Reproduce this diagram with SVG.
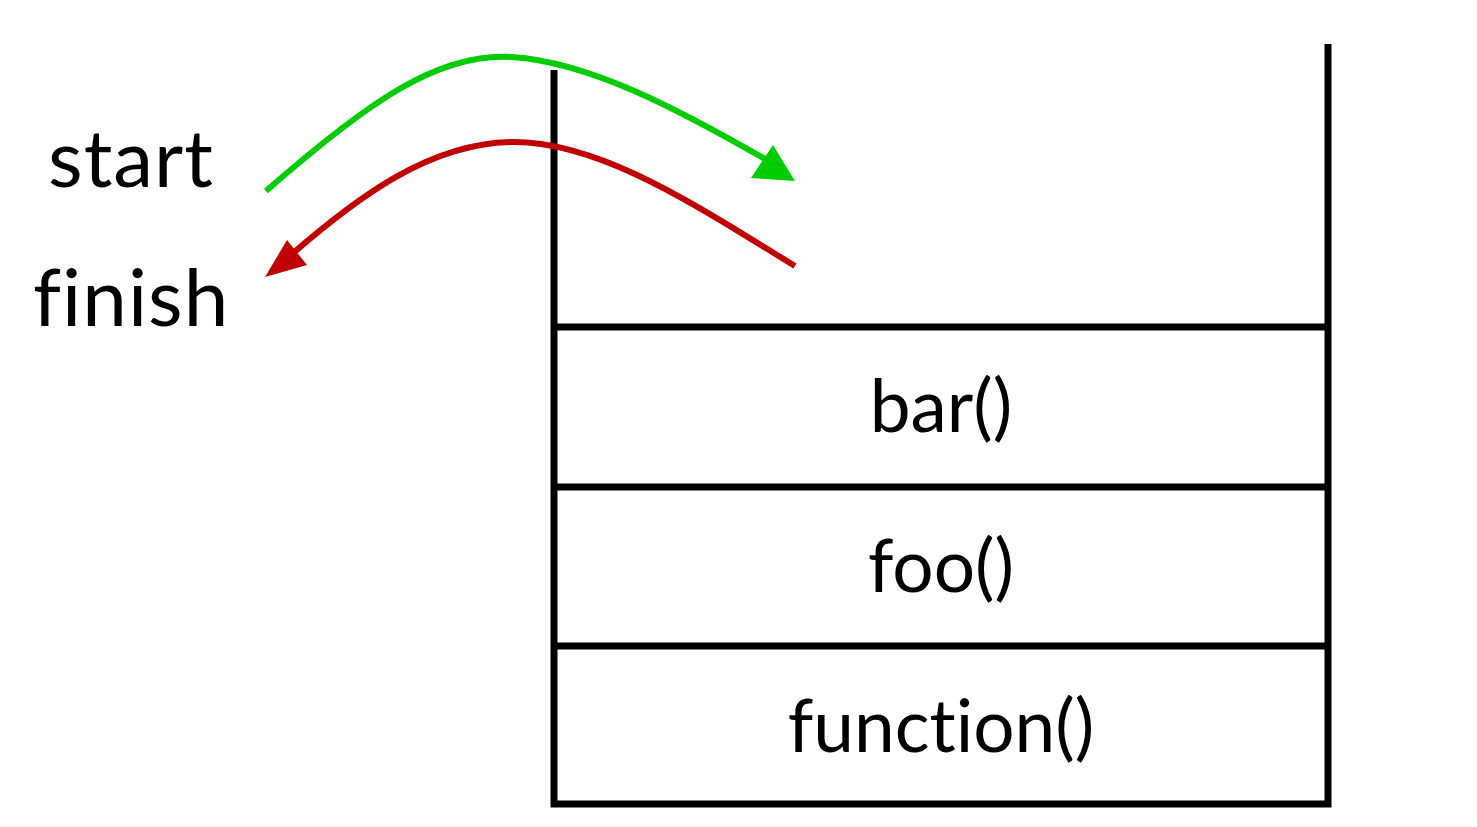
<svg xmlns="http://www.w3.org/2000/svg" width="1477" height="827" viewBox="0 0 1477 827">
<style>
.wall{stroke:#000;stroke-width:7;fill:none;stroke-linecap:butt}
.lbl{font-family:Lato,"Open Sans","Liberation Sans",sans-serif;font-size:73px;fill:#000;font-variant-ligatures:none}
.big{font-size:80px;letter-spacing:1px}
.mid{text-anchor:middle}
.g{stroke:#00cc00;stroke-width:6;fill:none}
.r{stroke:#c00000;stroke-width:6;fill:none}
</style>
<rect width="1477" height="827" fill="#fff"/>
<g id="stack">
<path class="wall" d="M554,70 V804 H1328 V44"/>
</g>
<g id="bar">
<line class="wall" x1="554" y1="327" x2="1328" y2="327"/>
<text class="lbl mid" x="941" y="432">bar()</text>
</g>
<g id="foo">
<line class="wall" x1="554" y1="487" x2="1328" y2="487"/>
<text class="lbl mid" x="941" y="592">foo()</text>
</g>
<g id="function">
<line class="wall" x1="554" y1="646" x2="1328" y2="646"/>
<text class="lbl mid" x="941" y="752">function()</text>
</g>
<g id="start">
<text class="lbl big" x="48" y="187">start</text>
</g>
<g id="finish">
<text class="lbl big" x="33" y="326">finish</text>
</g>
<g id="connectors">
<path class="g" d="M266,191 C370,100 440,52 512,57 C590,62 680,110 772,163"/>
<polygon fill="#00cc00" points="795,181 751,178 773,145"/>
<path class="r" d="M795,266 C700,208 600,140 510,142 C430,144 360,195 292,254"/>
<polygon fill="#c00000" points="265,277 307,265 287,240"/>
</g>
</svg>
